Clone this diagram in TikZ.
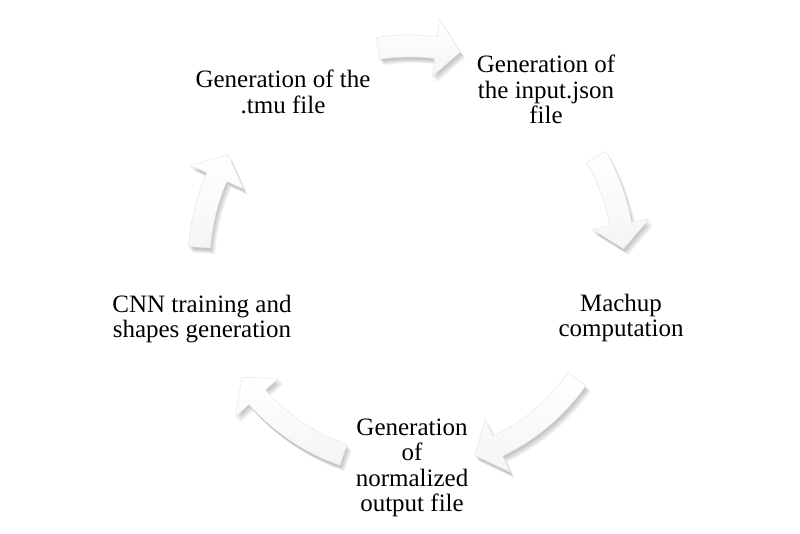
\documentclass[tikz,border=0pt]{standalone}
\usepackage{fontspec}
\setmainfont{Liberation Serif}
\usetikzlibrary{positioning}

% outline of one curved block arrow: radius, tail angle, tip angle
\newcommand{\arrowoutline}[3]{%
  ({#2}:{#1+11}) arc[start angle=#2, end angle=\headbase, radius=#1+11]
  -- ({\headbase}:{#1+29}) -- ({#3}:{#1}) -- ({\headbase}:{#1-29})
  -- ({\headbase}:{#1-11}) arc[start angle=\headbase, end angle=#2, radius=#1-11]
  -- cycle}

% curved block arrow with a soft shadow
\newcommand{\cyclearrow}[3]{%
  \pgfmathsetmacro\headbase{#3+25/#1*57.2958}
  \foreach \dx/\dy in {4.5/-6, 3.5/-5, 2.5/-4, 1.5/-3, 0.5/-2}{
    \fill[black, opacity=0.05, shift={(\dx,\dy)}] \arrowoutline{#1}{#2}{#3};
  }
  \shade[top color=white, bottom color=gray!8, draw=gray!22, line width=0.4]
    \arrowoutline{#1}{#2}{#3};
}

\begin{document}
\begin{tikzpicture}[x=1pt, y=1pt,
    stage/.style={align=center, inner sep=0pt,
                  font=\fontsize{25}{25.5}\selectfont}]
    \useasboundingbox (0,0) rectangle (800,-533);
    \coordinate (hub) at (410,-262);
    % Add the arrows of the cycle
    \begin{scope}[shift={(hub)}]
        \cyclearrow{216}{98.5}{76.5}
        \cyclearrow{214}{29.5}{3.5}
        \cyclearrow{204}{-35}{-71.5}
        \cyclearrow{204}{-109}{-145.5}
        \cyclearrow{211}{176}{149.5}
    \end{scope}
    % Add the stages
    \node[stage] (tmu) at (283,-92) {Generation of the\\.tmu file};
    \node[stage] (json) at (546,-89.5) {Generation of\\the input.json\\file};
    \node[stage] (machup) at (621,-318) {Machup\\computation};
    \node[stage] (norm) at (412,-468) {Generation\\of\\normalized\\output file};
    \node[stage] (cnn) at (202,-319) {CNN training and\\shapes generation};
\end{tikzpicture}
\end{document}
